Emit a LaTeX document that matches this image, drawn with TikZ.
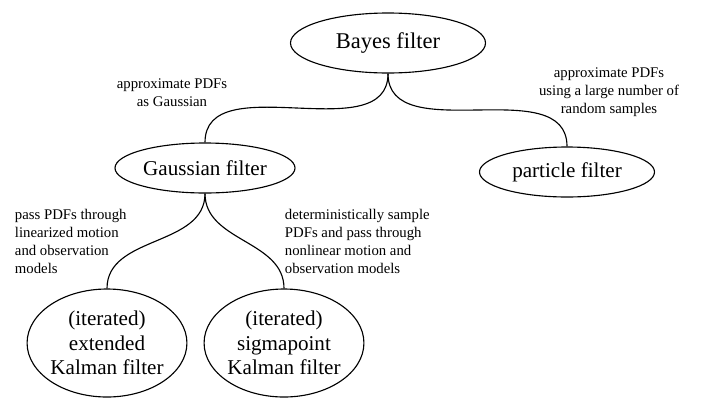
\documentclass[tikz,border=0pt]{standalone}
\usepackage{fontspec}
\setmainfont{Liberation Serif}
\usetikzlibrary{shapes.geometric}
\begin{document}
\begin{tikzpicture}[x=0.025cm,y=-0.025cm,
  el/.style={draw,thick,ellipse,inner sep=0pt,align=center,font=\fontsize{15}{17.5}\selectfont},
  lab/.style={align=center,font=\fontsize{10.5}{12.8}\selectfont},
  con/.style={thick,out=-90,in=90,looseness=1}]
\useasboundingbox (0,0) rectangle (701,402);
\node[el,minimum width=195*0.025cm,minimum height=60*0.025cm,font=\fontsize{16}{19}\selectfont] (bayes) at (388,43) {Bayes filter};
\node[el,minimum width=180*0.025cm,minimum height=50*0.025cm] (gauss) at (205,168) {Gaussian filter};
\node[el,minimum width=175*0.025cm,minimum height=50*0.025cm] (part) at (567,172) {particle filter};
\node[el,minimum width=155*0.025cm,minimum height=108*0.025cm] (ekf) at (107,343) {(iterated)\\extended\\Kalman filter};
\node[el,minimum width=142*0.025cm,minimum height=108*0.025cm] (spkf) at (284,343) {(iterated)\\sigmapoint\\Kalman filter};
\draw[con] (bayes.south) to (gauss.north);
\draw[con] (bayes.south) to (part.north);
\draw[con] (gauss.south) to (ekf.north);
\draw[con] (gauss.south) to (spkf.north);
\node[lab] (l1) at (172,93) {approximate PDFs\\as Gaussian};
\node[lab] (l2) at (609,92) {approximate PDFs\\using a large number of\\random samples};
\node[lab,align=left,anchor=west] (l3) at (10,241) {pass PDFs through\\linearized motion\\and observation\\models};
\node[lab,align=left,anchor=west] (l4) at (280,241) {deterministically sample\\PDFs and pass through\\nonlinear motion and\\observation models};
\end{tikzpicture}
\end{document}
